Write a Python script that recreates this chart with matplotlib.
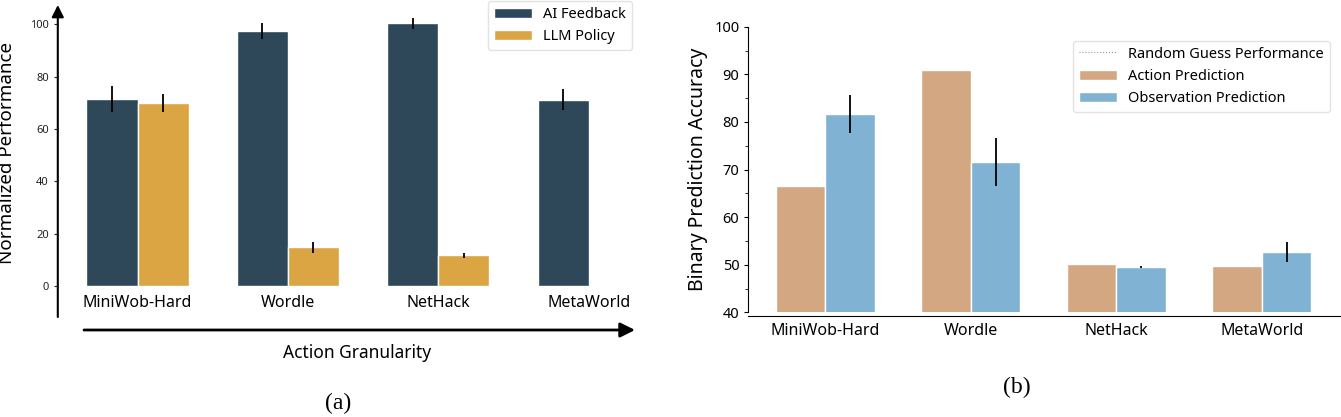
import numpy as np
import matplotlib
matplotlib.use('Agg')
import matplotlib.pyplot as plt
from matplotlib.lines import Line2D
from matplotlib.ticker import MultipleLocator

plt.rcParams['font.family'] = ['Noto Sans', 'DejaVu Sans']

# --- Data ---
envs = ['MiniWob-Hard', 'Wordle', 'NetHack', 'MetaWorld']

# (a) normalized performance
ai_feedback = [71.5, 97.5, 100.3, 71.2]
ai_feedback_err = [5.0, 3.0, 2.2, 4.0]
llm_policy = [69.8, 14.8, 11.8, np.nan]
llm_policy_err = [3.5, 2.2, 1.0, np.nan]

# (b) binary prediction accuracy
action_pred = [66.6, 90.8, 50.2, 49.8]
obs_pred = [81.7, 71.6, 49.5, 52.6]
obs_pred_err = [4.0, 5.1, 0.2, 2.1]

c_ai = '#2e4859'
c_llm = '#dba543'
c_act = '#d3a781'
c_obs = '#7fb2d3'

W, H = 1341, 417
fig = plt.figure(figsize=(W / 100, H / 100), dpi=100)

x = np.arange(len(envs))
bw = 0.34

# --- Panel (a) ---
ax_a = fig.add_axes([57.8 / W, 1 - 317 / H, 585 / W, 312 / H])
ax_a.bar(x - bw / 2, ai_feedback, bw, color=c_ai, edgecolor='white', linewidth=1,
         label='AI Feedback')
ax_a.bar(x + bw / 2, llm_policy, bw, color=c_llm, edgecolor='white', linewidth=1,
         label='LLM Policy')
ax_a.errorbar(x - bw / 2, ai_feedback, yerr=ai_feedback_err, fmt='none', ecolor='black', elinewidth=1.3)
ax_a.errorbar(x + bw / 2, llm_policy, yerr=llm_policy_err, fmt='none', ecolor='black', elinewidth=1.3)
ax_a.set_xlim(-0.53, 3.36)
ax_a.set_ylim(-11.8, 107.3)
for s in ax_a.spines.values():
    s.set_visible(False)
ax_a.set_yticks([0, 20, 40, 60, 80, 100])
ax_a.tick_params(axis='y', labelsize=8, length=3, width=0.8, colors='#222222')
ax_a.set_xticks(x)
ax_a.set_xticklabels(envs, fontsize=11.5)
ax_a.tick_params(axis='x', length=0, pad=-16)
ax_a.set_ylabel('Normalized Performance', fontsize=13.5)
ax_a.yaxis.set_label_coords(-0.071, 0.526)
ax_a.annotate('', xy=(0, 1), xytext=(0, 0), xycoords='axes fraction',
              arrowprops=dict(arrowstyle='-|>', color='black', lw=1.5, mutation_scale=18,
                              shrinkA=0, shrinkB=0))
ax_a.legend(loc='upper right', bbox_to_anchor=(632 / W, 1 - 1 / H), bbox_transform=fig.transFigure,
            fontsize=10.5, borderaxespad=0, handlelength=2.6, edgecolor='#dddddd')

fig.add_artist(matplotlib.patches.FancyArrowPatch((84 / W, 1 - 330 / H), (635 / W, 1 - 330 / H),
               transform=fig.transFigure, arrowstyle='-|>', color='black', lw=2,
               mutation_scale=22, shrinkA=0, shrinkB=0))
fig.text(357 / W, 1 - 353 / H, 'Action Granularity', fontsize=12.5, ha='center', va='center')
fig.text(338 / W, 1 - 403 / H, '(a)', fontsize=17, ha='center', va='center', family='Liberation Serif')

# --- Panel (b) ---
ax_b = fig.add_axes([748.4 / W, 1 - 312.3 / H, 592 / W, 285.6 / H])
ax_b.bar(x - bw / 2, action_pred, bw, color=c_act, edgecolor='white', linewidth=1,
         label='Action Prediction')
ax_b.bar(x + bw / 2, obs_pred, bw, color=c_obs, edgecolor='white', linewidth=1,
         label='Observation Prediction')
ax_b.errorbar(x + bw / 2, obs_pred, yerr=obs_pred_err, fmt='none', ecolor='black', elinewidth=1.3)
ax_b.set_xlim(-0.53, 3.54)
ax_b.set_ylim(40, 100)
ax_b.spines['top'].set_visible(False)
ax_b.spines['right'].set_visible(False)
ax_b.spines['bottom'].set_position(('outward', 3))
ax_b.yaxis.set_major_locator(MultipleLocator(10))
ax_b.yaxis.set_minor_locator(MultipleLocator(5))
ax_b.tick_params(axis='y', which='major', labelsize=10.5, length=3, width=0.8)
ax_b.tick_params(axis='y', which='minor', length=2, width=0.6)
ax_b.set_xticks(x)
ax_b.set_xticklabels(envs, fontsize=11.5)
ax_b.tick_params(axis='x', length=0, pad=5)
ax_b.set_ylabel('Binary Prediction Accuracy', fontsize=14)
ax_b.yaxis.set_label_coords(-0.068, 0.5)
handles, labels = ax_b.get_legend_handles_labels()
rand = Line2D([], [], color='#999999', linestyle=':', linewidth=0.8)
ax_b.legend([rand] + handles, ['Random Guess Performance'] + labels, loc='upper right',
            bbox_to_anchor=(1330 / W, 1 - 40.7 / H), bbox_transform=fig.transFigure,
            fontsize=10.5, borderaxespad=0, handlelength=2.6, edgecolor='#dddddd')
fig.text(1017 / W, 1 - 387 / H, '(b)', fontsize=17, ha='center', va='center', family='Liberation Serif')

fig.savefig('out.png', dpi=100)
